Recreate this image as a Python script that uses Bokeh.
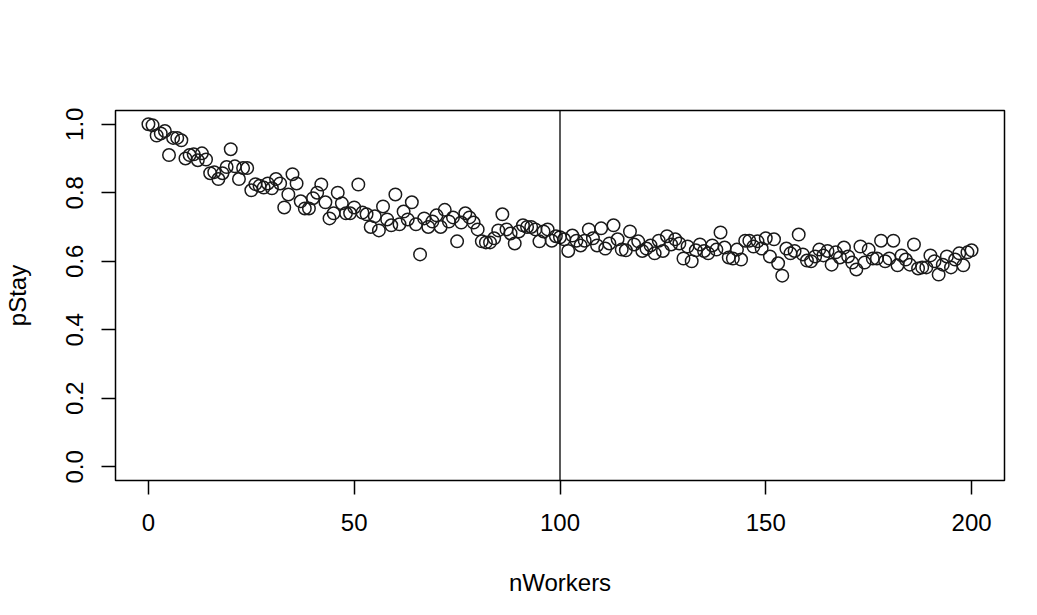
from bokeh.plotting import figure
from bokeh.models import Range1d, FixedTicker, Span
from bokeh.embed import file_html
from bokeh.resources import INLINE

# number of workers, 0..200
n_workers = list(range(0, 201))

p_stay = [
    1.000, 0.997, 0.967, 0.973, 0.980, 0.910, 0.960, 0.960, 0.953, 0.900,
    0.910, 0.912, 0.895, 0.915, 0.897, 0.857, 0.860, 0.840, 0.857, 0.875,
    0.927, 0.877, 0.840, 0.872, 0.872, 0.807, 0.825, 0.820, 0.815, 0.827,
    0.813, 0.840, 0.827, 0.757, 0.795, 0.854, 0.827, 0.775, 0.754, 0.754,
    0.784, 0.800, 0.824, 0.772, 0.725, 0.740, 0.800, 0.769, 0.740, 0.740,
    0.757, 0.824, 0.742, 0.737, 0.700, 0.731, 0.690, 0.760, 0.722, 0.705,
    0.795, 0.708, 0.745, 0.722, 0.772, 0.708, 0.620, 0.725, 0.700, 0.716,
    0.734, 0.700, 0.750, 0.716, 0.728, 0.658, 0.713, 0.740, 0.728, 0.713,
    0.693, 0.658, 0.655, 0.655, 0.667, 0.690, 0.737, 0.693, 0.681, 0.652,
    0.687, 0.705, 0.700, 0.700, 0.693, 0.658, 0.687, 0.693, 0.660, 0.673,
    0.670, 0.664, 0.630, 0.675, 0.660, 0.646, 0.660, 0.693, 0.667, 0.646,
    0.696, 0.637, 0.652, 0.705, 0.664, 0.634, 0.632, 0.687, 0.649, 0.658,
    0.630, 0.637, 0.646, 0.623, 0.660, 0.630, 0.673, 0.649, 0.664, 0.652,
    0.608, 0.643, 0.600, 0.632, 0.649, 0.630, 0.623, 0.646, 0.634, 0.684,
    0.640, 0.611, 0.608, 0.634, 0.605, 0.660, 0.660, 0.643, 0.658, 0.637,
    0.667, 0.614, 0.664, 0.594, 0.558, 0.637, 0.623, 0.630, 0.678, 0.620,
    0.602, 0.600, 0.614, 0.634, 0.617, 0.630, 0.590, 0.626, 0.611, 0.640,
    0.614, 0.596, 0.576, 0.643, 0.596, 0.634, 0.608, 0.608, 0.660, 0.600,
    0.608, 0.660, 0.588, 0.617, 0.605, 0.590, 0.649, 0.579, 0.582, 0.582,
    0.617, 0.600, 0.561, 0.590, 0.614, 0.582, 0.605, 0.623, 0.588, 0.626,
    0.632,
]

x_ticks = [0, 50, 100, 150, 200]
y_ticks = [0.0, 0.2, 0.4, 0.6, 0.8, 1.0]
y_tick_labels = ["0.0", "0.2", "0.4", "0.6", "0.8", "1.0"]
vline_x = 100

font = "Liberation Sans"
fsize = "24px"

p = figure(
    width=1020, height=606,
    x_range=Range1d(-8, 208), y_range=Range1d(-0.04, 1.04),
    output_backend="svg", toolbar_location=None, tools="",
    min_border_left=115, min_border_right=16,
    min_border_top=110, min_border_bottom=126,
    x_axis_label="nWorkers", y_axis_label="pStay",
)
p.grid.grid_line_color = None
p.outline_line_color = "black"
p.outline_line_width = 1.5
p.background_fill_color = "white"
p.border_fill_color = "white"

for ax in (p.xaxis[0], p.yaxis[0]):
    ax.axis_line_color = None
    ax.major_tick_in = 0
    ax.major_tick_out = 14
    ax.major_tick_line_width = 1.5
    ax.major_tick_line_color = "black"
    ax.minor_tick_line_color = None
    ax.major_label_text_font = font
    ax.major_label_text_font_size = fsize
    ax.major_label_text_color = "black"
    ax.axis_label_text_font = font
    ax.axis_label_text_font_size = fsize
    ax.axis_label_text_font_style = "normal"
    ax.axis_label_text_color = "black"

p.xaxis.ticker = FixedTicker(ticks=x_ticks)
p.yaxis.ticker = FixedTicker(ticks=y_ticks)
p.yaxis.major_label_overrides = {t: s for t, s in zip(y_ticks, y_tick_labels)}
p.yaxis.major_label_orientation = "vertical"
p.xaxis.major_label_standoff = 19
p.xaxis.axis_label_standoff = 35
p.yaxis.major_label_standoff = 18
p.yaxis.axis_label_standoff = 33

p.scatter(n_workers, p_stay, marker="circle", size=12.5,
          fill_color=None, line_color="#1a1a1a", line_width=1.5)

p.add_layout(Span(location=vline_x, dimension="height",
                  line_color="black", line_width=1.3))

open("out.html", "w").write(file_html(p, INLINE))
